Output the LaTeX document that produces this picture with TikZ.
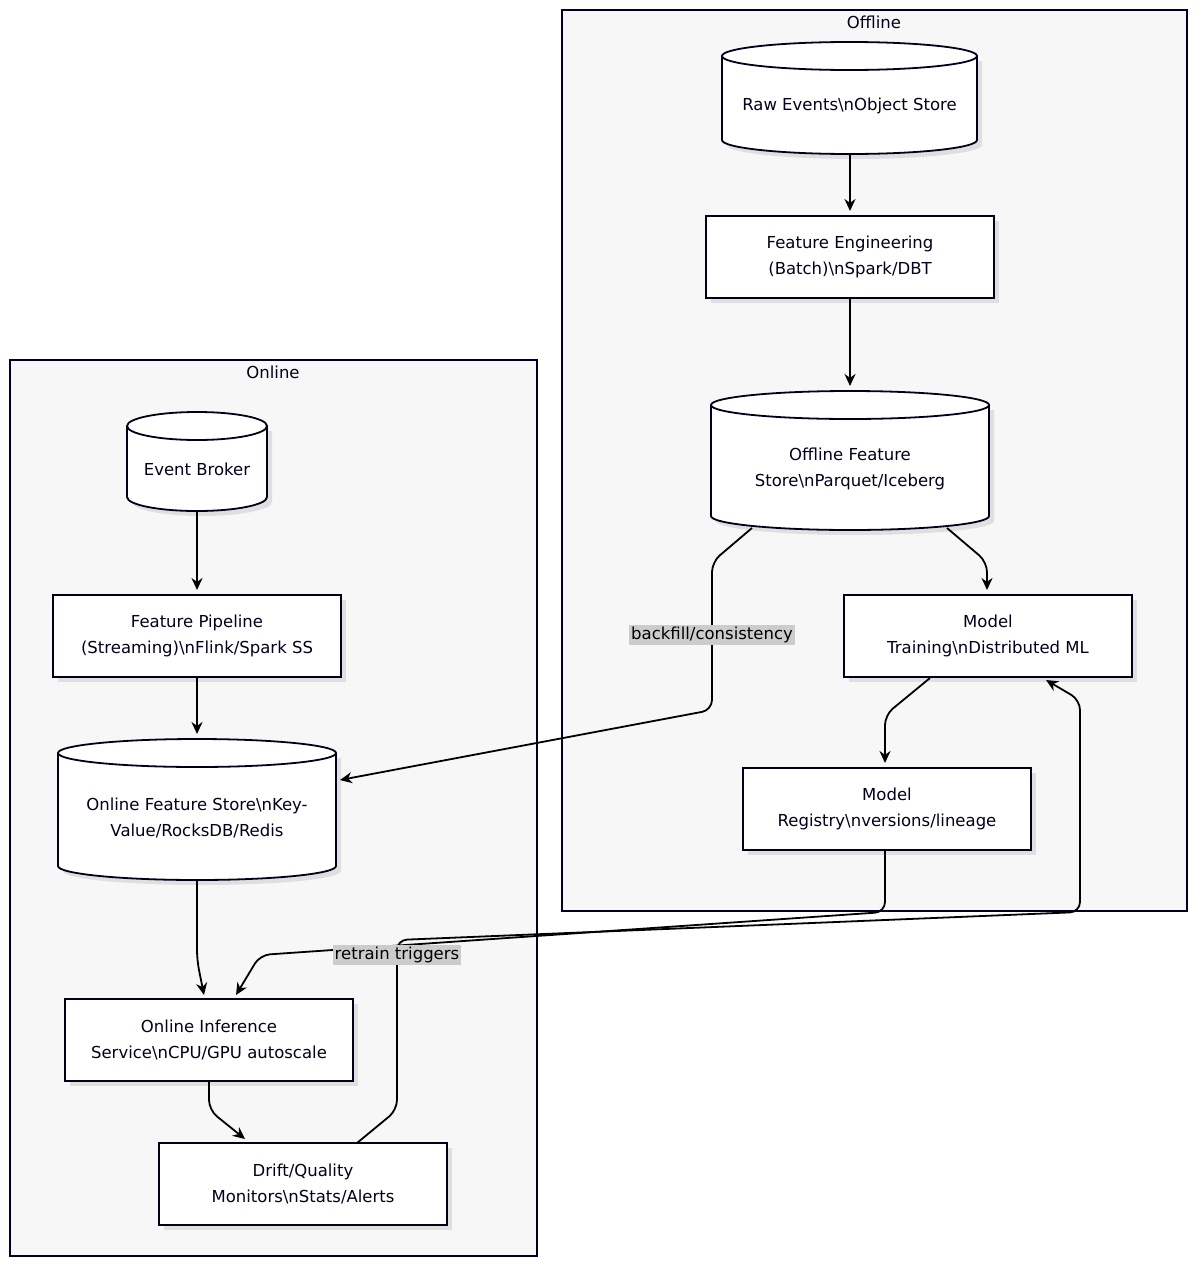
\documentclass[tikz,border=0pt]{standalone}
\usepackage{fontspec}
\setmainfont{DejaVu Sans}
\usetikzlibrary{arrows.meta}
\begin{document}
\begin{tikzpicture}[x=1pt,y=-1pt,
  clus/.style={draw=black!85!blue,line width=1.8pt,fill=blue!2!gray!6},
  box/.style={draw=black!90!blue,line width=1.8pt,fill=white},
  txt/.style={font=\fontsize{16.5}{26}\selectfont,align=center,text=black!90!blue},
  lab/.style={font=\fontsize{16.5}{20}\selectfont,fill=gray!40,inner sep=2pt},
  arr/.style={line width=1.8pt,-{Stealth[length=12pt,width=11pt]},rounded corners=10pt}]
\useasboundingbox (0,0) rectangle (1200,1269);
% clusters
\draw[clus] (562,10) rectangle (1187,911);
\node[txt] (offl) at (874,22) {Offline};
\draw[clus] (10,360) rectangle (537,1256);
\node[txt] (onl) at (273,372) {Online};
\newcommand{\mycyl}[6]{%
 \pgfmathsetmacro{\cx}{(#2+#4)/2}\pgfmathsetmacro{\rx}{(#4-#2)/2}
 \fill[gray!25] (#2+5,#3+19) -- (#2+5,#5-9) arc[start angle=180,end angle=360,x radius=\rx,y radius=-14] -- (#4+5,#3+19) -- cycle;
 \draw[box] (#2,#3+14) -- (#2,#5-14) arc[start angle=180,end angle=360,x radius=\rx,y radius=-14] -- (#4,#3+14);
 \draw[box] (\cx,#3+14) ellipse[x radius=\rx,y radius=14];
 \node[txt,minimum width=#4-#2,minimum height=#5-#3] (#1) at (\cx,{(#3+#5)/2+8}) {#6};}
\newcommand{\mybox}[6]{%
 \fill[gray!25] (#2+5,#3+5) rectangle (#4+5,#5+5);
 \draw[box] (#2,#3) rectangle (#4,#5);
 \node[txt,minimum width=#4-#2,minimum height=#5-#3] (#1) at ({(#2+#4)/2},{(#3+#5)/2}) {#6};}
\mycyl{raw}{722}{42}{977}{154}{Raw Events\textbackslash nObject Store}
\mybox{fe}{706}{216}{994}{298}{Feature Engineering\\(Batch)\textbackslash nSpark/DBT}
\mycyl{ofs}{711}{391}{989}{530}{Offline Feature\\Store\textbackslash nParquet/Iceberg}
\mybox{mt}{844}{595}{1132}{677}{Model\\Training\textbackslash nDistributed ML}
\mybox{mr}{743}{768}{1031}{850}{Model\\Registry\textbackslash nversions/lineage}
\mycyl{eb}{127}{412}{267}{511}{Event Broker}
\mybox{fp}{53}{595}{341}{677}{Feature Pipeline\\(Streaming)\textbackslash nFlink/Spark SS}
\mycyl{onfs}{58}{739}{336}{880}{Online Feature Store\textbackslash nKey-\\Value/RocksDB/Redis}
\mybox{oi}{65}{999}{353}{1081}{Online Inference\\Service\textbackslash nCPU/GPU autoscale}
\mybox{dq}{159}{1143}{447}{1225}{Drift/Quality\\Monitors\textbackslash nStats/Alerts}
% edges
\coordinate (a1) at (850,154); \coordinate (a2) at (850,211);
\draw[arr] (a1) -- (a2);
\coordinate (b1) at (850,298); \coordinate (b2) at (850,386);
\draw[arr] (b1) -- (b2);
\coordinate (c1) at (947,528); \coordinate (c2) at (987,590);
\draw[arr] (c1) -- (987,562) -- (c2);
\coordinate (d1) at (752,528); \coordinate (d2) at (340,780);
\draw[arr] (d1) -- (712,562) -- (712,710) -- (d2);
\node[lab] (bl) at (712,635) {backfill/consistency};
\coordinate (e1) at (930,678); \coordinate (e2) at (885,763);
\draw[arr] (e1) -- (885,715) -- (e2);
\coordinate (f1) at (885,850); \coordinate (f2) at (236,995);
\draw[arr] (f1) -- (885,912) -- (260,955) -- (f2);
\coordinate (g1) at (357,1143); \coordinate (g2) at (1046,680);
\draw[arr] (g1) -- (397,1110) -- (397,940) -- (1080,912) -- (1080,700) -- (g2);
\node[lab] (rl) at (397,955) {retrain triggers};
\coordinate (h1) at (197,511); \coordinate (h2) at (197,590);
\draw[arr] (h1) -- (h2);
\coordinate (i1) at (197,677); \coordinate (i2) at (197,734);
\draw[arr] (i1) -- (i2);
\coordinate (j1) at (197,880); \coordinate (j2) at (204,995);
\draw[arr] (j1) -- (197,960) -- (j2);
\coordinate (k1) at (209,1081); \coordinate (k2) at (245,1139);
\draw[arr] (k1) -- (209,1110) -- (k2);
\end{tikzpicture}
\end{document}
